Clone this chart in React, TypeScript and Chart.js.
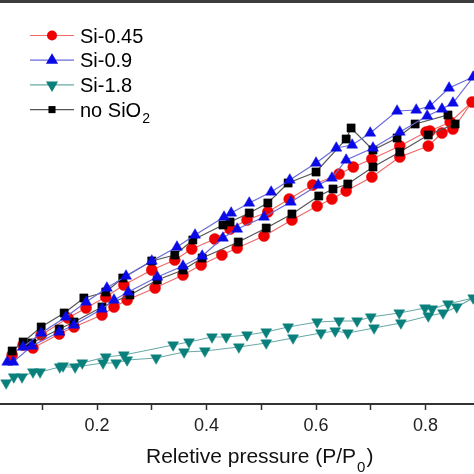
import React, { useEffect, useRef } from "react";
import { Chart, registerables } from "chart.js";

Chart.register(...registerables);

// Relative pressure (P/P0) and quantity adsorbed (arbitrary units): adsorption branch then desorption branch
const si045X = [0.083, 0.131, 0.158, 0.209, 0.231, 0.255, 0.306, 0.357, 0.390, 0.428, 0.456, 0.505, 0.556, 0.602, 0.629, 0.655, 0.702, 0.753, 0.805, 0.830, 0.850, 0.885,
  0.845, 0.808, 0.801, 0.753, 0.702, 0.668, 0.642, 0.594, 0.551, 0.512, 0.474, 0.443, 0.415, 0.373, 0.342, 0.300, 0.249, 0.216, 0.180, 0.147, 0.098, 0.065, 0.045];
const si045Y = [14, 17.5, 19.25, 22.25, 24.25, 26, 29, 32.25, 34.75, 37.25, 39, 42, 46, 49.5, 51.25, 53.25, 56.75, 61.75, 64.5, 67.75, 68.75, 75.5,
  70.5, 68.25, 68, 64.5, 61.25, 59.25, 57.5, 54.75, 51.25, 48, 46, 43.75, 41.25, 38.75, 36, 33.5, 29.75, 26.75, 24, 21.5, 17.25, 14.75, 12.25];

const si09X = [0.036, 0.047, 0.081, 0.131, 0.158, 0.209, 0.231, 0.257, 0.310, 0.357, 0.392, 0.430, 0.456, 0.505, 0.554, 0.604, 0.629, 0.655, 0.704, 0.753, 0.803, 0.830, 0.850, 0.887,
  0.843, 0.808, 0.783, 0.748, 0.699, 0.666, 0.637, 0.600, 0.552, 0.518, 0.478, 0.445, 0.432, 0.379, 0.346, 0.300, 0.253, 0.218, 0.180, 0.143, 0.098, 0.065];
const si09Y = [10.5, 10.5, 14.5, 18, 19.75, 23.75, 26, 28, 31.75, 34.5, 37, 41.5, 43.75, 46.75, 50.5, 54.75, 56.5, 61, 64, 68, 72, 73.75, 75.25, 81.75,
  79, 74.5, 73.5, 73.25, 67.75, 64.75, 64, 60.25, 56, 53, 50.25, 47.75, 46.75, 42.25, 39.25, 35.75, 32, 29, 25.5, 21.75, 17.75, 14.25];

const si18X = [0.034, 0.048, 0.063, 0.083, 0.096, 0.132, 0.160, 0.211, 0.235, 0.255, 0.308, 0.359, 0.397, 0.459, 0.509, 0.558, 0.609, 0.635, 0.658, 0.706, 0.755, 0.805, 0.832, 0.857, 0.887,
  0.841, 0.812, 0.799, 0.752, 0.700, 0.675, 0.642, 0.602, 0.549, 0.509, 0.474, 0.436, 0.410, 0.368, 0.339, 0.249, 0.216, 0.173, 0.138];
const si18Y = [5.25, 6.75, 6.75, 8, 8, 9.25, 9.25, 10.25, 10.25, 11, 11.5, 13, 13.25, 14.25, 15.25, 16.5, 17.75, 18.25, 17.75, 19, 20.25, 22, 22.75, 24.25, 26.5,
  25, 23.75, 24, 22.75, 21.75, 20.75, 20.75, 20.5, 19.25, 18, 17.25, 16.75, 16.75, 15.5, 14.75, 12.25, 11.75, 10.25, 9.5];

const noSiO2X = [0.081, 0.131, 0.158, 0.209, 0.260, 0.310, 0.357, 0.392, 0.458, 0.509, 0.556, 0.605, 0.631, 0.658, 0.704, 0.753, 0.805, 0.854,
  0.841, 0.781, 0.748, 0.704, 0.664, 0.655, 0.600, 0.549, 0.512, 0.478, 0.443, 0.430, 0.375, 0.342, 0.300, 0.247, 0.216, 0.176, 0.140, 0.098, 0.065, 0.045];
const noSiO2Y = [15.25, 18.75, 20.5, 24.25, 27.25, 31, 33.5, 36.5, 40.5, 44, 47.5, 52, 53.75, 55, 59.25, 63, 67.25, 70,
  72.25, 70, 66.5, 63.5, 69, 66.25, 58, 55.25, 50.25, 47.75, 45.5, 44.75, 41, 37.25, 35.75, 31.5, 28, 26.5, 22.75, 19.25, 15.5, 13.25];

const seriesNames = ["Si-0.45", "Si-0.9", "Si-1.8", "no SiO"];
const seriesSubs = ["", "", "", "2"];
const xTickValues = [0.1, 0.2, 0.3, 0.4, 0.5, 0.6, 0.7, 0.8];
const xTickLabels = ["", "0.2", "", "0.4", "", "0.6", "", "0.8"];
const xTitleMain = "Reletive pressure (P/P";
const xTitleSub = "0";
const xTitleEnd = ")";

const X_MIN = 0.0228;
const X_MAX = 0.8885;
const Y_MIN = 0;
const Y_MAX = 100.25;

const FONT = '"Liberation Sans", Arial, Helvetica, sans-serif';

const styles = [
  { marker: "#f00000", line: "#f06a6a", shape: "circle", r: 5.5, rot: 0 },
  { marker: "#0a0ae6", line: "#6a6ad8", shape: "triangle", r: 6.3, rot: 0 },
  { marker: "#0a807c", line: "#6aaaa6", shape: "triangle", r: 6.3, rot: 180 },
  { marker: "#000000", line: "#555555", shape: "rect", r: 5.8, rot: 0 },
];

function drawMarker(ctx: CanvasRenderingContext2D, shape: string, x: number, y: number, r: number, rot: number, color: string) {
  ctx.fillStyle = color;
  ctx.beginPath();
  if (shape === "circle") {
    ctx.arc(x, y, r, 0, Math.PI * 2);
  } else if (shape === "triangle") {
    let a = (rot * Math.PI) / 180;
    ctx.moveTo(x + Math.sin(a) * r, y - Math.cos(a) * r);
    a += (2 * Math.PI) / 3;
    ctx.lineTo(x + Math.sin(a) * r, y - Math.cos(a) * r);
    a += (2 * Math.PI) / 3;
    ctx.lineTo(x + Math.sin(a) * r, y - Math.cos(a) * r);
    ctx.closePath();
  } else {
    const s = r * Math.SQRT1_2;
    ctx.rect(x - s, y - s, 2 * s, 2 * s);
  }
  ctx.fill();
}

const decorPlugin = {
  id: "decor",
  afterDraw(chart: any) {
    const ctx: CanvasRenderingContext2D = chart.ctx;
    ctx.save();
    // top frame line
    ctx.fillStyle = "#3d3d3d";
    ctx.fillRect(0, 0, chart.width, 3);
    // legend
    const legendMarkerSize = [5, 7, 7, 5];
    for (let i = 0; i < seriesNames.length; i++) {
      const st = styles[i];
      const cy = 35.5 + i * 24.7;
      ctx.strokeStyle = st.line;
      ctx.lineWidth = 1.2;
      ctx.beginPath();
      ctx.moveTo(30, cy);
      ctx.lineTo(74, cy);
      ctx.stroke();
      drawMarker(ctx, st.shape, 52, cy, legendMarkerSize[i], st.rot, st.marker);
      ctx.fillStyle = "#000";
      ctx.font = `20px ${FONT}`;
      ctx.textBaseline = "alphabetic";
      ctx.textAlign = "left";
      const base = cy + 7.2;
      ctx.fillText(seriesNames[i], 80, base);
      if (seriesSubs[i]) {
        const w = ctx.measureText(seriesNames[i]).width;
        ctx.font = `14px ${FONT}`;
        ctx.fillText(seriesSubs[i], 80 + w + 1, base + 6);
      }
    }
    // x axis title
    ctx.fillStyle = "#111";
    ctx.font = `21px ${FONT}`;
    const tx = 146;
    const tb = 463;
    ctx.fillText(xTitleMain, tx, tb);
    const w1 = ctx.measureText(xTitleMain).width;
    ctx.font = `15px ${FONT}`;
    ctx.fillText(xTitleSub, tx + w1 + 1, tb + 9);
    const w2 = ctx.measureText(xTitleSub).width;
    ctx.font = `21px ${FONT}`;
    ctx.fillText(xTitleEnd, tx + w1 + w2 + 2, tb);
    ctx.restore();
  },
};

function toPoints(xs: number[], ys: number[]) {
  return xs.map((x, i) => ({ x, y: ys[i] }));
}

export default function App() {
  const ref = useRef<HTMLCanvasElement | null>(null);

  useEffect(() => {
    if (!ref.current) return;
    const series = [
      { xs: si045X, ys: si045Y, order: 2 },
      { xs: si09X, ys: si09Y, order: 0 },
      { xs: si18X, ys: si18Y, order: 3 },
      { xs: noSiO2X, ys: noSiO2Y, order: 1 },
    ];
    const chart = new Chart(ref.current, {
      type: "scatter",
      data: {
        datasets: series.map((s, i) => ({
          label: seriesNames[i] + (seriesSubs[i] ? "₂" : ""),
          data: toPoints(s.xs, s.ys),
          showLine: true,
          tension: 0,
          borderColor: styles[i].line,
          borderWidth: 1.2,
          backgroundColor: styles[i].marker,
          pointBackgroundColor: styles[i].marker,
          pointBorderColor: styles[i].marker,
          pointBorderWidth: 0.5,
          pointStyle: styles[i].shape as any,
          pointRotation: styles[i].rot,
          pointRadius: styles[i].r,
          order: s.order,
        })),
      },
      options: {
        animation: false,
        responsive: false,
        devicePixelRatio: 1,
        events: [],
        layout: { autoPadding: false, padding: { top: 3, left: 0, right: 0, bottom: 0 } },
        plugins: {
          legend: { display: false },
          tooltip: { enabled: false },
          title: { display: false },
        },
        scales: {
          x: {
            type: "linear",
            min: X_MIN,
            max: X_MAX,
            afterBuildTicks: (scale: any) => {
              scale.ticks = xTickValues.map((v) => ({ value: v }));
            },
            afterFit: (scale: any) => {
              scale.height = 70;
              scale.paddingLeft = 0;
              scale.paddingRight = 0;
            },
            ticks: {
              autoSkip: false,
              maxRotation: 0,
              padding: 5,
              color: "#222",
              font: { family: FONT, size: 18 },
              callback: (value: any) => {
                const idx = xTickValues.findIndex((v) => Math.abs(v - Number(value)) < 1e-6);
                return idx >= 0 ? xTickLabels[idx] : "";
              },
            },
            grid: {
              drawOnChartArea: false,
              drawTicks: true,
              tickLength: 6,
              tickWidth: 1.5,
              tickColor: "#333",
            },
            border: { display: true, color: "#333", width: 2 },
          },
          y: {
            type: "linear",
            min: Y_MIN,
            max: Y_MAX,
            display: false,
          },
        },
      },
      plugins: [decorPlugin],
    });
    return () => chart.destroy();
  }, []);

  return (
    <div style={{ position: "absolute", left: 0, top: 0, width: 474, height: 474, background: "#fff" }}>
      <canvas ref={ref} width={474} height={474} style={{ width: 474, height: 474, display: "block" }} />
    </div>
  );
}
